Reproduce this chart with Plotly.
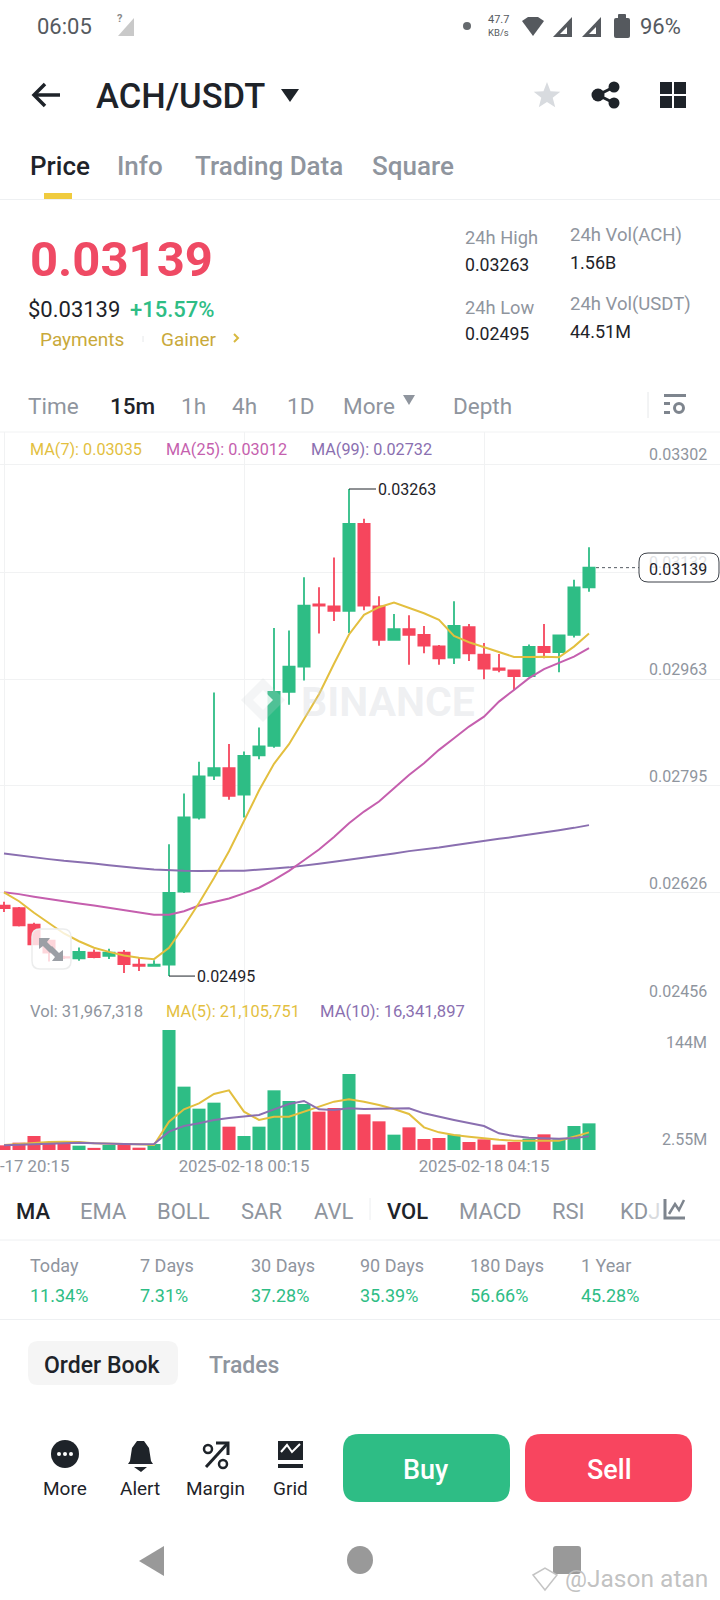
import math
import pandas as pd
import plotly.graph_objects as go

# candles (15m bars)
open_ = [0.02606, 0.02602, 0.02576, 0.02551, 0.02525, 0.02523, 0.02532, 0.02527, 0.02532, 0.02513,
         0.02511, 0.02513, 0.02628, 0.02745, 0.02811, 0.02823, 0.02781, 0.02843, 0.02858, 0.02943,
         0.02983, 0.03081, 0.03078, 0.03071, 0.03208, 0.03078, 0.03025, 0.03042, 0.03033, 0.03015,
         0.02997, 0.03045, 0.03002, 0.02980, 0.02977, 0.02968, 0.03014, 0.03006, 0.03033, 0.03108]
high = [0.02612, 0.02604, 0.02579, 0.02553, 0.02527, 0.02540, 0.02537, 0.02538, 0.02536, 0.02525,
        0.02520, 0.02703, 0.02783, 0.02833, 0.02942, 0.02861, 0.02849, 0.02887, 0.03044, 0.03040,
        0.03124, 0.03108, 0.03155, 0.03263, 0.03216, 0.03094, 0.03066, 0.03064, 0.03047, 0.03017,
        0.03086, 0.03050, 0.03020, 0.03003, 0.02978, 0.03018, 0.03050, 0.03033, 0.03120, 0.03171]
low = [0.02596, 0.02573, 0.02544, 0.02518, 0.02522, 0.02519, 0.02523, 0.02522, 0.02500, 0.02503,
       0.02510, 0.02495, 0.02626, 0.02742, 0.02804, 0.02773, 0.02745, 0.02837, 0.02855, 0.02923,
       0.02961, 0.03035, 0.03055, 0.03036, 0.03072, 0.03016, 0.03024, 0.02986, 0.03004, 0.02986,
       0.02987, 0.02992, 0.02963, 0.02974, 0.02946, 0.02967, 0.02996, 0.02974, 0.03029, 0.03101]
close = [0.02602, 0.02575, 0.02545, 0.02532, 0.02524, 0.02533, 0.02525, 0.02532, 0.02514, 0.02511,
         0.02513, 0.02626, 0.02745, 0.02810, 0.02823, 0.02779, 0.02842, 0.02857, 0.02943, 0.02983,
         0.03079, 0.03079, 0.03071, 0.03208, 0.03079, 0.03025, 0.03042, 0.03033, 0.03016, 0.02996,
         0.03047, 0.03004, 0.02980, 0.02978, 0.02968, 0.03014, 0.03006, 0.03032, 0.03108, 0.03139]

ma7 = [0.02627, 0.02613, 0.025949, 0.02578, 0.025622, 0.025499, 0.025397, 0.025331, 0.025274, 0.025239,
       0.025217, 0.025397, 0.025736, 0.026102, 0.026496, 0.026918, 0.027396, 0.027875, 0.028297, 0.028606,
       0.029, 0.029395, 0.029874, 0.030337, 0.030645, 0.030766, 0.030838, 0.03076, 0.030671, 0.030566,
       0.030313, 0.030214, 0.030135, 0.030057, 0.029982, 0.029982, 0.029987, 0.029978, 0.030145, 0.03035]
ma25 = [0.02627, 0.026242, 0.026202, 0.02617, 0.02613, 0.026095, 0.026062, 0.026027, 0.025994, 0.025961,
        0.025916, 0.025916, 0.025972, 0.026062, 0.026119, 0.026174, 0.026253, 0.026343, 0.026467, 0.026608,
        0.026776, 0.026946, 0.027144, 0.027361, 0.027544, 0.027702, 0.027913, 0.028122, 0.028307, 0.028517,
        0.028701, 0.028884, 0.029041, 0.029278, 0.029462, 0.029647, 0.029789, 0.029883, 0.029987, 0.03012]
ma99 = [0.026882, 0.02685, 0.026819, 0.026794, 0.026767, 0.02674, 0.026724, 0.026699, 0.026672, 0.026652,
        0.02663, 0.026614, 0.026609, 0.026606, 0.026603, 0.026609, 0.026612, 0.026625, 0.026645, 0.026664,
        0.026688, 0.02672, 0.026751, 0.026782, 0.026814, 0.02685, 0.026882, 0.02692, 0.026945, 0.026976,
        0.027014, 0.027051, 0.027082, 0.027114, 0.027145, 0.027177, 0.027213, 0.027251, 0.027287, 0.02733]

# volume in millions
vol = [5.6, 8.8, 16.8, 8.8, 8.8, 5.2, 2.55, 6.0, 6.8, 2.8,
       7.2, 144, 76, 49.6, 56.8, 28, 16.8, 28, 71.6, 58.8,
       55.2, 46, 50.4, 91.2, 42.8, 34.4, 18.4, 27.2, 13.2, 14.4,
       18.4, 9.6, 12.8, 6.4, 9.6, 13.6, 18.8, 12.8, 28.8, 31.97]
vol_ma5 = [6.0, 7.2, 8.8, 9.6, 10, 9.6, 8, 7.2, 7.2, 6.8,
           6, 34, 48.8, 56, 67.2, 71.6, 46, 36, 40, 40,
           46, 52.8, 58, 60.8, 58, 54, 49.2, 43.2, 27.2, 21.2,
           18, 16, 14, 12.4, 11.2, 11.2, 12, 11.2, 16, 21.1]
vol_ma10 = [5.6, 6.4, 6.8, 7.6, 8.8, 8.8, 8, 7.2, 7.2, 6.8,
            7.2, 22, 28.8, 32, 36, 38.4, 40, 42, 48.8, 55.2,
            58.8, 48.8, 48, 50, 49.2, 49.6, 50, 50, 44, 39.6,
            36, 32.4, 28.8, 20, 16.8, 14.8, 14.4, 13.6, 14.4, 16.34]

price_ticks = [0.03302, 0.03132, 0.02963, 0.02795, 0.02626, 0.02456]
time_ticks = ["2025-02-17 20:15", "2025-02-18 00:15", "2025-02-18 04:15"]

times = pd.date_range("2025-02-17 20:15", periods=40, freq="15min")
GREEN = "#2ebd85"
RED = "#f6465d"
DARK = "#1e2329"
GRAY = "#8f959e"
GRID = "#f1f2f3"
YEL = "#e3bf3f"
PINK = "#c55fae"
PURP = "#8a6fb0"
FONT = "Roboto"


def px(x, y):
    return x / 720, 1 - y / 1600


shapes = []
annos = []


def t(x, y, s, size, color=DARK, anchor="left", weight=400, opacity=1):
    if anchor == "left":
        x -= 2.5
    xp, yp = px(x, y)
    annos.append(dict(x=xp, y=yp, xref="paper", yref="paper", text=s, showarrow=False,
                      xanchor=anchor, yanchor="middle", opacity=opacity,
                      font=dict(family=FONT, size=size, color=color, weight=weight)))


def poly(points, fill=DARK, line=None, lw=0, close=True):
    d = ""
    for i, (x, y) in enumerate(points):
        xp, yp = px(x, y)
        d += ("M" if i == 0 else "L") + f"{xp:.5f},{yp:.5f} "
    if close:
        d += "Z"
    shapes.append(dict(type="path", xref="paper", yref="paper", path=d,
                       fillcolor=fill if close else "rgba(0,0,0,0)",
                       line=dict(color=line or fill, width=lw)))


def hline(x0, x1, y, color="#eef0f2", lw=1, dash="solid"):
    a, b = px(x0, y)
    c, _ = px(x1, y)
    shapes.append(dict(type="line", xref="paper", yref="paper", x0=a, x1=c, y0=b, y1=b,
                       line=dict(color=color, width=lw, dash=dash)))


def vline(x, y0, y1, color="#eef0f2", lw=1):
    a, b = px(x, y0)
    _, c = px(x, y1)
    shapes.append(dict(type="line", xref="paper", yref="paper", x0=a, x1=a, y0=b, y1=c,
                       line=dict(color=color, width=lw)))


def rrect(x0, y0, x1, y1, r, fill, line=None, lw=0):
    a, b = x0 / 720, 1 - y0 / 1600
    c, d = x1 / 720, 1 - y1 / 1600
    rx, ry = r / 720, r / 1600
    path = (f"M{a+rx:.5f},{b:.5f} L{c-rx:.5f},{b:.5f} Q{c:.5f},{b:.5f} {c:.5f},{b-ry:.5f} "
            f"L{c:.5f},{d+ry:.5f} Q{c:.5f},{d:.5f} {c-rx:.5f},{d:.5f} "
            f"L{a+rx:.5f},{d:.5f} Q{a:.5f},{d:.5f} {a:.5f},{d+ry:.5f} "
            f"L{a:.5f},{b-ry:.5f} Q{a:.5f},{b:.5f} {a+rx:.5f},{b:.5f} Z")
    shapes.append(dict(type="path", xref="paper", yref="paper", path=path, fillcolor=fill,
                       line=dict(color=line or fill, width=lw)))


def circle(cx, cy, rx, ry=None, fill=DARK, line=None, lw=0):
    ry = ry or rx
    a, b = px(cx - rx, cy + ry)
    c, d = px(cx + rx, cy - ry)
    shapes.append(dict(type="circle", xref="paper", yref="paper", x0=a, x1=c, y0=b, y1=d,
                       fillcolor=fill, line=dict(color=line or fill, width=lw)))


# traces
fig = go.Figure()
fig.add_trace(go.Candlestick(x=times, open=open_, high=high, low=low, close=close, yaxis="y",
                             increasing=dict(line=dict(color=GREEN, width=1.8), fillcolor=GREEN),
                             decreasing=dict(line=dict(color=RED, width=1.8), fillcolor=RED),
                             whiskerwidth=0, showlegend=False))
for vals, col in [(ma99, PURP), (ma25, PINK), (ma7, YEL)]:
    fig.add_trace(go.Scatter(x=times, y=vals, mode="lines", yaxis="y", showlegend=False,
                             line=dict(color=col, width=2)))

vol_colors = [GREEN if c >= o else RED for o, c in zip(open_, close)]
fig.add_trace(go.Bar(x=times, y=[v * 1e6 for v in vol], yaxis="y2", marker=dict(color=vol_colors, line_width=0),
                     showlegend=False))
for vals, col in [(vol_ma5, YEL), (vol_ma10, PURP)]:
    fig.add_trace(go.Scatter(x=times, y=[v * 1e6 for v in vals], mode="lines", yaxis="y2", showlegend=False,
                             line=dict(color=col, width=2)))

# chart labels tied to the data
for val in price_ticks:
    annos.append(dict(x=1, xref="paper", y=val, yref="y", text=f"{val:.5f}", showarrow=False,
                      xanchor="right", yanchor="bottom", xshift=-11, yshift=-2,
                      opacity=0.25 if val == 0.03132 else 1,
                      font=dict(family=FONT, size=16, color=GRAY)))
annos.append(dict(x=1, xref="paper", y=144e6, yref="y2", text="144M", showarrow=False, xanchor="right",
                  yanchor="top", xshift=-11, yshift=-1, font=dict(family=FONT, size=16, color=GRAY)))
annos.append(dict(x=1, xref="paper", y=2.55e6, yref="y2", text="2.55M", showarrow=False, xanchor="right",
                  yanchor="bottom", xshift=-11, yshift=-3, font=dict(family=FONT, size=16, color=GRAY)))
annos.append(dict(x=times[high.index(max(high))], y=max(high), yref="y", text=f"{max(high):.5f}", showarrow=True,
                  arrowhead=0, arrowwidth=1, arrowcolor=DARK, ax=27, ay=0, xanchor="left",
                  font=dict(family=FONT, size=16, color=DARK)))
annos.append(dict(x=times[low.index(min(low))], y=min(low), yref="y", text=f"{min(low):.5f}", showarrow=True,
                  arrowhead=0, arrowwidth=1, arrowcolor=DARK, ax=26, ay=0, xanchor="left",
                  font=dict(family=FONT, size=16, color=DARK)))

# last price pill
shapes.append(dict(type="line", xref="x", yref="y", x0=times[39] + pd.Timedelta(minutes=7), x1=times[39] + pd.Timedelta(minutes=50),
                   y0=close[-1], y1=close[-1], line=dict(color="#555b63", width=1, dash="3px,3px")))
rrect(639, 553, 719, 582, 9, "rgba(255,255,255,0.9)", line="#3c4148", lw=1)
t(709, 569, f"{close[-1]:.5f}", 16, DARK, "right")

# watermark and expand icon
t(301, 702, "BINANCE", 41, "rgba(205,210,214,0.32)", weight=700)
poly([(263, 678), (285, 700), (263, 722), (241, 700)], "rgba(205,210,214,0.22)")
poly([(263, 690), (273, 700), (263, 710), (253, 700)], "rgba(255,255,255,0.8)")
rrect(32, 929, 71, 969, 8, "rgba(255,255,255,0.78)", line="#eceded", lw=1.5)
poly([(39, 938), (50, 938), (47, 942), (54, 949), (50, 953), (43, 946), (39, 949)], "#9b9fa5")
poly([(63, 961), (52, 961), (55, 957), (48, 950), (52, 946), (59, 953), (63, 950)], "#9b9fa5")

# indicator captions
t(30, 449, "MA(7): 0.03035", 16.2, YEL)
t(166, 449, "MA(25): 0.03012", 16.2, PINK)
t(311, 449, "MA(99): 0.02732", 16.2, PURP)
t(30, 1011, "Vol: 31,967,318", 16.6, GRAY)
t(166, 1011, "MA(5): 21,105,751", 16.4, YEL)
t(320, 1011, "MA(10): 16,341,897", 16.6, PURP)

# status bar
t(37, 27, "06:05", 22, "#555a60")
t(117, 19, "?", 11, "#8a8a8a", weight=700)
poly([(118, 36), (134, 36), (134, 18)], "#c9c9c9")
circle(467, 26, 4, fill="#666a6e")
t(498, 20, "47.7", 11, "#555a60", "center")
t(498, 32, "KB/s", 9.5, "#555a60", "center")
poly([(522, 21), (528, 17), (538, 17), (544, 21), (533, 36)], "#55595e")
poly([(553, 37), (572, 37), (572, 17)], "#55595e")
poly([(567, 34), (567, 27), (560, 34)], "#ffffff")
poly([(582, 37), (601, 37), (601, 17)], "#55595e")
poly([(596, 34), (596, 27), (589, 34)], "#ffffff")
rrect(614, 18, 630, 38, 2, "#55595e")
rrect(618, 14, 626, 19, 1, "#55595e")
t(640, 27, "96%", 22, "#555a60")

# header
poly([(34, 95), (60, 95)], line=DARK, lw=3.5, close=False)
poly([(45, 84), (34, 95), (45, 106)], line=DARK, lw=3.5, close=False)
t(96, 96, "ACH/USDT", 34.5, DARK, weight=500)
poly([(281, 89), (299, 89), (290, 102)], DARK)
star = []
for k in range(10):
    r = 14 if k % 2 == 0 else 6
    a = -math.pi / 2 + k * math.pi / 5
    star.append((547 + r * math.cos(a), 96 + r * math.sin(a)))
poly(star, "#d8dbdf")
poly([(614, 87), (598, 95), (614, 103)], line=DARK, lw=3, close=False)
circle(614, 87, 5.5)
circle(598, 95, 6.5)
circle(614, 103, 5.5)
for x0 in (660, 674):
    for y0 in (82, 96):
        poly([(x0, y0), (x0 + 12, y0), (x0 + 12, y0 + 12), (x0, y0 + 12)], DARK)

# tabs
t(30, 166, "Price", 26, DARK, weight=500)
t(117, 166, "Info", 26, GRAY, weight=500)
t(195, 166, "Trading Data", 26, GRAY, weight=500)
t(373, 166, "Square", 26, GRAY, weight=500)
poly([(44, 193), (72, 193), (72, 199), (44, 199)], "#f0cb3e")
hline(0, 720, 199.5)

# price block
t(30, 259, "0.03139", 49, "#ef4a64", weight=700)
t(28, 309, "$0.03139", 22, DARK)
t(130, 309, "+15.57%", 22, GREEN, weight=500)
t(40, 339, "Payments", 19, "#c9a93a")
vline(143, 336, 342, "#e6e8ea")
t(161, 339, "Gainer", 19, "#c9a93a")
poly([(234, 334), (238, 338), (234, 342)], line="#d8b93f", lw=2, close=False)

t(465, 238, "24h High", 18.3, GRAY)
t(465, 265, "0.03263", 17.7, DARK)
t(465, 307, "24h Low", 18.3, GRAY)
t(465, 334, "0.02495", 17.7, DARK)
t(570, 235, "24h Vol(ACH)", 18.5, GRAY)
t(570, 262, "1.56B", 18, DARK)
t(570, 304, "24h Vol(USDT)", 18.5, GRAY)
t(570, 331, "44.51M", 18, DARK)

# interval row
for x, s, col, w in [(28, "Time", GRAY, 400), (110, "15m", DARK, 500), (181, "1h", GRAY, 400), (233, "4h", GRAY, 400),
                     (287, "1D", GRAY, 400), (343, "More", GRAY, 400), (453, "Depth", GRAY, 400)]:
    t(x, 406, s, 22.5, col, weight=w)
poly([(403, 395), (415, 395), (409, 405)], GRAY)
vline(648, 392, 418, "#e6e8ea")
poly([(664, 394), (686, 394), (686, 397), (664, 397)], "#7e858e")
poly([(664, 402), (670, 402), (670, 405), (664, 405)], "#7e858e")
poly([(664, 411), (670, 411), (670, 414), (664, 414)], "#7e858e")
circle(679, 408, 4.5, fill="#ffffff", line="#7e858e", lw=3)
hline(0, 720, 432, GRID)

# indicator row
for x, s, col, w in [(16, "MA", DARK, 500), (80, "EMA", GRAY, 400), (157, "BOLL", GRAY, 400), (241, "SAR", GRAY, 400),
                     (314, "AVL", GRAY, 400), (387, "VOL", DARK, 500), (459, "MACD", GRAY, 400), (552, "RSI", GRAY, 400),
                     (620, "KD<span style='color:#d9dbde'>J</span>", GRAY, 400)]:
    t(x, 1211, s, 22, col, weight=w)
vline(370, 1198, 1220, "#eceef0")
poly([(665, 1199), (665, 1218), (685, 1218)], line="#7e858e", lw=3, close=False)
poly([(669, 1214), (675, 1204), (679, 1210), (684, 1200)], line="#7e858e", lw=2.5, close=False)
hline(0, 720, 1240)

# returns
ret_labels = ["Today", "7 Days", "30 Days", "90 Days", "180 Days", "1 Year"]
ret_values = ["11.34%", "7.31%", "37.28%", "35.39%", "56.66%", "45.28%"]
ret_x = [30, 140, 251, 360, 470, 581]
for x, a, b in zip(ret_x, ret_labels, ret_values):
    t(x, 1265, a, 18, GRAY)
    t(x, 1295, b, 18, GREEN)
hline(0, 720, 1319.5)

# order book tabs
rrect(28, 1341, 178, 1385, 10, "#f5f5f5")
t(44, 1365, "Order Book", 23, DARK, weight=500)
t(209, 1365, "Trades", 23, GRAY, weight=500)

# bottom actions
circle(65, 1454, 14)
for dx in (-6, 0, 6):
    circle(65 + dx, 1454, 2, fill="#ffffff")
poly([(130, 1461), (132, 1448), (137, 1441), (144, 1441), (149, 1448), (151, 1461), (153, 1464), (128, 1464)], DARK)
poly([(134, 1467), (147, 1467), (141, 1472)], DARK)
poly([(206, 1467), (227, 1444)], line=DARK, lw=3, close=False)
poly([(216, 1443), (228, 1443), (228, 1455)], line=DARK, lw=3, close=False)
circle(208, 1449, 4, fill="#ffffff", line=DARK, lw=2.5)
circle(223, 1464, 4, fill="#ffffff", line=DARK, lw=2.5)
poly([(278, 1441), (303, 1441), (303, 1460), (278, 1460)], DARK)
poly([(281, 1452), (287, 1445), (292, 1452), (300, 1444)], line="#ffffff", lw=2, close=False)
poly([(278, 1464), (303, 1464), (303, 1468), (278, 1468)], DARK)
for x, s in [(65, "More"), (140, "Alert"), (215, "Margin"), (290, "Grid")]:
    t(x, 1488, s, 19, DARK, "center")
rrect(343, 1434, 510, 1502, 16, GREEN)
rrect(525, 1434, 692, 1502, 16, "#f8455f")
t(426, 1470, "Buy", 27, "#ffffff", "center", weight=500)
t(609, 1470, "Sell", 27, "#ffffff", "center", weight=500)

# nav bar
poly([(139, 1561), (164, 1546), (164, 1576)], "#999999")
circle(360, 1560, 13, 14, fill="#999999")
rrect(553, 1546, 581, 1574, 3, "#999999")
t(565, 1578, "@Jason atan", 24.5, "rgba(190,190,190,0.95)")
poly([(533, 1575), (545, 1568), (557, 1575), (545, 1590)], "rgba(255,255,255,0)", line="rgba(190,190,190,0.9)", lw=1.5)

fig.update_layout(
    width=720, height=1600,
    margin=dict(l=0, r=0, t=0, b=0, autoexpand=False),
    paper_bgcolor="white", plot_bgcolor="white",
    bargap=0.13, boxgap=0.25, boxgroupgap=0,
    showlegend=False,
    shapes=shapes, annotations=annos,
    xaxis=dict(anchor="y2", type="date", domain=[0, 1], rangeslider=dict(visible=False), automargin=False,
               range=[times[0] - pd.Timedelta(minutes=4), times[0] + pd.Timedelta(minutes=716)],
               tickvals=time_ticks, ticktext=time_ticks, tickangle=0, ticks="", ticklabelstandoff=4,
               showgrid=True, gridcolor=GRID, gridwidth=1, zeroline=False, showline=False,
               ticklabeloverflow="allow", tickfont=dict(family=FONT, size=16.8, color=GRAY)),
    yaxis=dict(domain=[1 - 1000.8 / 1600, 1 - 432 / 1600], range=[0.02456, 0.033529], automargin=False,
               tickvals=price_ticks, showticklabels=False, showgrid=True, gridcolor=GRID,
               gridwidth=1, zeroline=False, showline=False, fixedrange=True),
    yaxis2=dict(domain=[1 - 1150 / 1600, 1 - 1000.8 / 1600], range=[0, 179e6], automargin=False,
                tickvals=[0], showticklabels=False, showgrid=True, gridcolor=GRID,
                gridwidth=1, zeroline=False, showline=False, fixedrange=True),
)

fig.write_html("out.html", config={"displayModeBar": False},
               post_script="document.body.style.margin='0';")
